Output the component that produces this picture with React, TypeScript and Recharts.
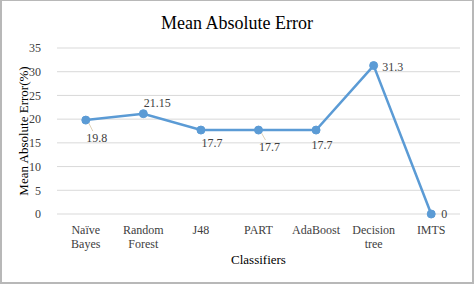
import { CartesianGrid, Label, Line, LineChart, XAxis, YAxis } from 'recharts';

const classifiers = ['Naïve\nBayes', 'Random\nForest', 'J48', 'PART', 'AdaBoost', 'Decision\ntree', 'IMTS'];
const maeValues = [19.8, 21.15, 17.7, 17.7, 17.7, 31.3, 0];
const yTicks = [0, 5, 10, 15, 20, 25, 30, 35];

// label offset from the dot centre, per point
const LABEL_OFFSETS = [
  [11, 18, true],
  [14, -11, false],
  [11, 13, false],
  [11, 17, true],
  [6, 15, false],
  [19, 1, false],
  [13, 0, false],
] as const;

const FONT = '"Liberation Serif", "Times New Roman", serif';
const BLUE = '#5b9bd5';

const data = classifiers.map((name, i) => ({ name, value: maeValues[i] }));

function XTick(props: any) {
  const { x, y, payload } = props;
  const lines = String(payload.value).split('\n');
  return (
    <text x={x} y={y} textAnchor="middle" fontFamily={FONT} fontSize={12} fill="#404040">
      {lines.map((l, i) => (
        <tspan key={i} x={x} dy={i === 0 ? 18 : 14}>
          {l}
        </tspan>
      ))}
    </text>
  );
}

function PointLabel(props: any) {
  const { x, y, index, value } = props;
  const [dx, dy, leader] = LABEL_OFFSETS[index];
  return (
    <g>
      {leader && (
        <line x1={x + 3} y1={y + 3} x2={x + dx - 4} y2={y + dy - 7} stroke="#e0d2b8" strokeWidth={1} />
      )}
      <text
        x={x + dx}
        y={y + dy}
        textAnchor="middle"
        dominantBaseline="central"
        fontFamily={FONT}
        fontSize={12}
        fill="#404040"
      >
        {value}
      </text>
    </g>
  );
}

export default function App() {
  return (
    <div style={{ position: 'absolute', left: 0, top: 0, width: 474, height: 284, background: '#fff' }}>
      <LineChart width={474} height={284} data={data} margin={{ top: 48, right: 14, bottom: 15, left: 0 }}>
        <text x={237} y={23} textAnchor="middle" dominantBaseline="central" fontFamily={FONT} fontSize={18} fill="#000">
          Mean Absolute Error
        </text>
        <CartesianGrid vertical={false} stroke="#d9d9d9" />
        <XAxis
          dataKey="name"
          scale="band"
          axisLine={false}
          tickLine={false}
          tick={<XTick />}
          interval={0}
          height={55}
          tickSize={0}
        >
          <Label
            value="Classifiers"
            position="insideBottom"
            offset={5}
            style={{ fontFamily: FONT, fontSize: 13, fill: '#000' }}
          />
        </XAxis>
        <YAxis
          domain={[0, 35]}
          ticks={yTicks}
          interval={0}
          axisLine={false}
          tickLine={false}
          width={57}
          tickMargin={10}
          tick={{ fontFamily: FONT, fontSize: 12, fill: '#404040' }}
        >
          <Label
            value="Mean Absolute Error(%)"
            angle={-90}
            position="insideLeft"
            offset={23}
            style={{ fontFamily: FONT, fontSize: 13, fill: '#000', textAnchor: 'middle' }}
          />
        </YAxis>
        <Line
          type="linear"
          dataKey="value"
          stroke={BLUE}
          strokeWidth={2.5}
          dot={{ r: 4, fill: BLUE, stroke: BLUE, strokeWidth: 1 }}
          isAnimationActive={false}
          label={<PointLabel />}
        />
      </LineChart>
      <div
        style={{
          position: 'absolute',
          inset: 0,
          border: '2px solid #b8b8b8',
          borderTopWidth: 1,
          pointerEvents: 'none',
        }}
      />
    </div>
  );
}
